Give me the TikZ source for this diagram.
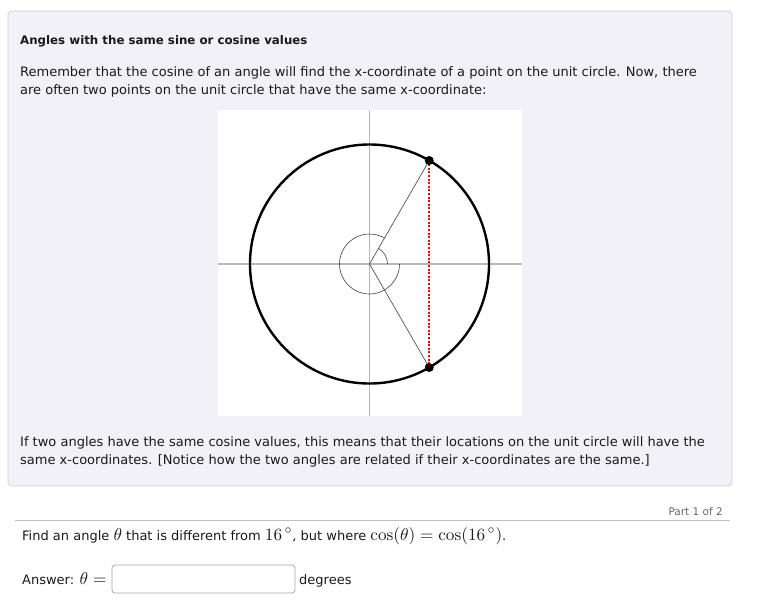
\documentclass[tikz,border=0pt]{standalone}
\usepackage{graphicx}
\usepackage[no-math]{fontspec}
\setmainfont{DejaVu Sans}
\usetikzlibrary{calc}
\definecolor{panelbg}{HTML}{F2F1F7}
\definecolor{panelbd}{HTML}{D0D0D6}
\definecolor{axisgray}{HTML}{B8B8B8}
\definecolor{txt}{HTML}{1A1A1A}
\newcommand{\bigmath}[1]{\scalebox{1.72}{\fontsize{10}{12}\selectfont$#1$}}
\begin{document}
\begin{tikzpicture}[x=1pt,y=-1pt,
  txtline/.style={anchor=base west,inner sep=0pt,font=\fontsize{13}{15}\selectfont,text=txt},
  axis/.style={draw=axisgray,line width=1.5pt},
  thin line/.style={draw=black!75,line width=0.6pt},
  dotpt/.style={circle,fill=black,inner sep=0pt,minimum size=9pt}]
\useasboundingbox (0,0) rectangle (776,603);
\fill[white] (0,0) rectangle (776,603);
% panel
\draw[panelbd,fill=panelbg,rounded corners=4pt,line width=0.8pt] (8,11) rectangle (732,486);
\node[txtline,font=\fontsize{11.8}{14}\selectfont\bfseries] (title) at (20,44) {Angles with the same sine or cosine values};
\node[txtline] (p1) at (20,76) {Remember that the cosine of an angle will find the x-coordinate of a point on the unit circle. Now, there};
\node[txtline] (p2) at (20,94) {are often two points on the unit circle that have the same x-coordinate:};
% image
\fill[white] (218,110) rectangle (522,416);
\coordinate (O) at (369.5,264);
\draw[axis] (218,264) -- (522,264);
\draw[axis] (369.5,110) -- (369.5,416);
\draw[line width=2.4pt] (O) circle[radius=119.5];
\coordinate (A) at ($(O)+(60:119.5 and -119.5)$);
\coordinate (B) at ($(O)+(-60:119.5 and -119.5)$);
\draw[thin line] (O) -- (A);
\draw[thin line] (O) -- (B);
\draw[thin line] ($(O)+(18,0)$) arc[start angle=0,end angle=-60,radius=18];
\draw[thin line] ($(O)+(30,0)$) arc[start angle=0,end angle=300,radius=30];
\draw[red,line width=2.2pt,dash pattern=on 2pt off 1.6pt] (A) -- (B);
\node[dotpt] (a) at (A) {};
\node[dotpt] (b) at (B) {};
\node[txtline] (p3) at (20,446) {If two angles have the same cosine values, this means that their locations on the unit circle will have the};
\node[txtline] (p4) at (20,464) {same x-coordinates. [Notice how the two angles are related if their x-coordinates are the same.]};
% below
\node[anchor=base east,inner sep=0pt,font=\fontsize{10.5}{12}\selectfont,text=black!60] (part) at (723,515) {Part 1 of 2};
\draw[black!25,line width=1pt] (15,520.5) -- (730,520.5);
\node[txtline] (q) at (22,540) {Find an angle \bigmath{\theta} that is different from \bigmath{16^{\,\circ}}, but where \bigmath{\cos(\theta)=\cos(16^{\,\circ})}.};
\node[txtline] (ans) at (22,584) {Answer: \bigmath{\theta=}};
\draw[black!35,rounded corners=3pt,line width=0.8pt,fill=white] (112,565) rectangle (295,593);
\node[txtline] (deg) at (299,584) {degrees};
\end{tikzpicture}
\end{document}
